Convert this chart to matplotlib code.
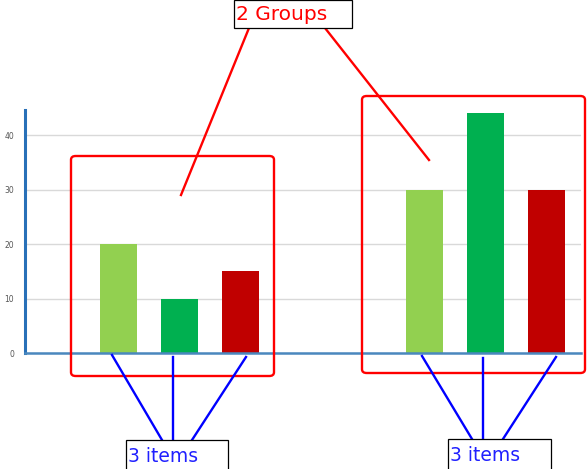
import matplotlib.pyplot as plt
from matplotlib.patches import FancyBboxPatch, Rectangle
from matplotlib.lines import Line2D

# data
groups = [0, 1]
items = ['Item 1', 'Item 2', 'Item 3']
values = [[20, 10, 15], [30, 44, 30]]
colors = ['#92D050', '#00B050', '#C00000']
yticks = [0, 10, 20, 30, 40]

W, H = 587, 469
fig = plt.figure(figsize=(W / 100, H / 100), dpi=100)
ax = fig.add_axes([25 / W, (H - 353) / H, (581 - 25) / W, (353 - 110) / H])

offset = 0.2
width = 0.121
for g, vals in zip(groups, values):
    for i, (v, c) in enumerate(zip(vals, colors)):
        ax.bar(g + (i - 1) * offset, v, width=width, color=c, zorder=2)

ax.set_xlim(-0.505, 1.312)
ax.set_ylim(0, 44.6)
ax.set_yticks(yticks)
ax.set_xticks([])
ax.grid(axis='y', color='#D9D9D9', linewidth=1, zorder=0)
ax.tick_params(axis='y', length=0, pad=8, labelsize=5.5, labelcolor='#555555')
for s in ['top', 'right']:
    ax.spines[s].set_visible(False)
ax.spines['left'].set_color('#2870B8')
ax.spines['left'].set_linewidth(2.2)
ax.spines['bottom'].set_color('#4A88BE')
ax.spines['bottom'].set_linewidth(1.8)
ax.spines['bottom'].set_zorder(3)


# callouts in figure pixels
def P(x, y):
    return x / W, (H - y) / H


def line(x0, y0, x1, y1, color, lw=1.7):
    (a, b), (c, d) = P(x0, y0), P(x1, y1)
    fig.add_artist(Line2D([a, c], [b, d], color=color, linewidth=lw, zorder=5))


def rbox(x0, y0, x1, y1):
    a, b = P(x0, y1)
    fig.add_artist(FancyBboxPatch((a, b), (x1 - x0) / W, (y1 - y0) / H,
                                  boxstyle='round,pad=0,rounding_size=0.008',
                                  fill=False, edgecolor='#FF0000', linewidth=1.7, zorder=5))


def label(x0, y0, x1, y1, text, color):
    a, b = P(x0, y1)
    fig.add_artist(Rectangle((a, b), (x1 - x0) / W, (y1 - y0) / H, facecolor='white',
                             edgecolor='black', linewidth=0.9, zorder=6))
    tx, ty = P(x0 + 2, (y0 + y1) / 2 + 1)
    fig.text(tx, ty, text, color=color, fontsize=14.5 if color == '#FF0000' else 13.5,
             ha='left', va='center', zorder=7)


rbox(71, 156, 274, 376)
rbox(362, 96, 585, 373)
line(249, 28, 181, 195, '#FF0000')
line(325, 28, 429, 160, '#FF0000')
label(234, 0, 352, 28, '2 Groups', '#FF0000')

for (x0, y0, x1, y1) in [(112, 355, 162, 440), (173, 357, 173, 440), (246, 357, 192, 440),
                         (422, 356, 472, 439), (483, 358, 483, 439), (556, 357, 503, 439)]:
    line(x0, y0, x1, y1, '#0000FF')
label(126, 440, 228, 470, '3 items', '#2020FF')
label(448, 439, 551, 470, '3 items', '#2020FF')

fig.savefig('out.png', dpi=100)
